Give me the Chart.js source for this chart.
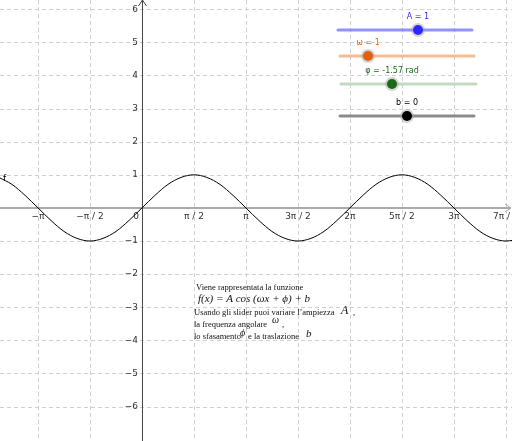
<!DOCTYPE html>
<html><head><meta charset="utf-8">
<script src="https://cdn.jsdelivr.net/npm/chart.js@4"></script>
<style>html,body{margin:0;padding:0;background:#fff}</style>
</head><body>
<canvas id="c" width="512" height="441"></canvas>
<script>
// curve samples (x in rad, f(x))
const xs = [-4.32,-3.927,-3.534,-3.1416,-2.749,-2.356,-1.963,-1.5708,-1.178,-0.785,-0.393,0,0.393,0.785,1.178,1.5708,1.963,2.356,2.749,3.1416,3.534,3.927,4.32,4.712,5.105,5.498,5.89,6.283,6.676,7.069,7.461,7.854,8.247,8.639,9.032,9.425,9.817,10.21,10.603,10.996,11.2];
const ys = [0.92,0.71,0.38,0,-0.38,-0.71,-0.92,-1,-0.92,-0.71,-0.38,0,0.38,0.71,0.92,1,0.92,0.71,0.38,0,-0.38,-0.71,-0.92,-1,-0.92,-0.71,-0.38,0,0.38,0.71,0.92,1,0.92,0.71,0.38,0,-0.38,-0.71,-0.92,-1,-0.98];
const xTickVals = [-3.1416,-1.5708,1.5708,3.1416,4.7124,6.2832,7.854,9.4248,10.9956];
const xTickLabels = ['\u2212\u03c0','\u2212\u03c0 / 2','\u03c0 / 2','\u03c0','3\u03c0 / 2','2\u03c0','5\u03c0 / 2','3\u03c0','7\u03c0 / 2'];
const yTickVals = [-6,-5,-4,-3,-2,-1,1,2,3,4,5,6];
const sliders = [
 {label:'A = 1', color:'#2a2aff', line:'rgba(110,110,255,0.75)', x1:338,x2:472,y:30,k:418},
 {label:'\u03c9 = 1', color:'#e06010', line:'rgba(245,170,120,0.8)', x1:340,x2:474,y:56,k:368},
 {label:'\u03c6 = -1.57 rad', color:'#1a6a1a', line:'rgba(180,210,180,0.8)', x1:341,x2:476,y:84,k:392},
 {label:'b = 0', color:'#000', line:'rgba(110,110,110,0.8)', x1:340,x2:474,y:116,k:407}
];
const gridPlug = {id:'g', beforeDatasetsDraw(ch){
  const c=ch.ctx,X=ch.scales.x,Y=ch.scales.y;
  c.save();c.strokeStyle='#d0d0d0';c.lineWidth=1;c.setLineDash([4,3]);
  xTickVals.forEach(v=>{const p=Math.round(X.getPixelForValue(v))+0.5;c.beginPath();c.moveTo(p,0);c.lineTo(p,441);c.stroke();});
  yTickVals.forEach(v=>{const p=Math.round(Y.getPixelForValue(v))+0.5;c.beginPath();c.moveTo(0,p);c.lineTo(512,p);c.stroke();});
  c.setLineDash([]);
  const x0=X.getPixelForValue(0),y0=Y.getPixelForValue(0);
  c.strokeStyle='#aaa';c.lineWidth=2;c.beginPath();c.moveTo(0,y0);c.lineTo(511,y0);c.stroke();
  c.beginPath();c.moveTo(505,y0-4);c.lineTo(511,y0);c.lineTo(505,y0+4);c.lineWidth=1;c.stroke();
  c.strokeStyle='#444';c.lineWidth=1;c.beginPath();c.moveTo(x0+0.5,441);c.lineTo(x0+0.5,0);c.stroke();
  c.beginPath();c.moveTo(x0-3.5,6);c.lineTo(x0+0.5,0);c.lineTo(x0+4.5,6);c.stroke();
  c.fillStyle='#333';c.font='9px "DejaVu Sans"';c.textAlign='center';c.textBaseline='top';
  xTickVals.forEach((v,i)=>{c.fillText(xTickLabels[i],X.getPixelForValue(v),y0+4);});
  c.textAlign='right';c.textBaseline='middle';
  yTickVals.forEach(v=>{c.fillText(String(v).replace('-','\u2212'),x0-4,Y.getPixelForValue(v));});
  c.textBaseline='top';c.fillText('0',x0-3,y0+4);
  c.restore();
}, afterDatasetsDraw(ch){
  const c=ch.ctx;c.save();
  c.fillStyle='#000';c.font='9px "DejaVu Sans"';c.fillText('f',3,181);
  sliders.forEach(s=>{
    c.strokeStyle=s.line;c.lineWidth=3;c.lineCap='round';c.beginPath();c.moveTo(s.x1,s.y);c.lineTo(s.x2,s.y);c.stroke();
    c.fillStyle='rgba(160,160,160,0.45)';c.beginPath();c.arc(s.k,s.y,7,0,7);c.fill();
    c.fillStyle=s.color;c.beginPath();c.arc(s.k,s.y,5,0,7);c.fill();
    c.font='8px "DejaVu Sans"';c.textAlign='center';c.textBaseline='bottom';c.fillText(s.label,s.k,s.y-9);
  });
  c.fillStyle='#111';c.textAlign='left';c.textBaseline='alphabetic';
  c.font='8.5px "Liberation Serif"';
  c.fillText('Viene rappresentata la funzione',196,290);
  c.font='italic 11px "Liberation Serif"';c.fillText('f(x) = A cos (\u03c9x + \u03d5) + b',198,302);
  c.font='8.5px "Liberation Serif"';
  c.fillText('Usando gli slider puoi variare l\u2019ampiezza',194,315);
  c.font='italic 12px "Liberation Serif"';c.fillText('A',341,314);
  c.font='8.5px "Liberation Serif"';c.fillText(',',353,315);
  c.fillText('la frequenza angolare',194,327);c.font='italic 10px "Liberation Serif"';c.fillText('\u03c9',272,323);
  c.font='8.5px "Liberation Serif"';c.fillText(',',282,327);
  c.fillText('lo sfasamento',194,339);c.font='italic 10px "Liberation Serif"';c.fillText('\u03d5',240,336);
  c.font='8.5px "Liberation Serif"';c.fillText('e la traslazione',248,339);
  c.font='italic 11px "Liberation Serif"';c.fillText('b',306,337);
  c.restore();
}};
new Chart(document.getElementById('c'),{type:'scatter',
 data:{datasets:[{data:xs.map((x,i)=>({x,y:ys[i]})),showLine:true,borderColor:'#000',borderWidth:1,pointRadius:0,tension:0.4,cubicInterpolationMode:'monotone'}]},
 options:{responsive:false,animation:false,layout:{padding:0},
  plugins:{legend:{display:false},tooltip:{enabled:false}},
  scales:{x:{type:'linear',min:-4.29,max:11.18,display:false},y:{type:'linear',min:-7.04,max:6.28,display:false}}},
 plugins:[gridPlug]});
</script></body></html>
